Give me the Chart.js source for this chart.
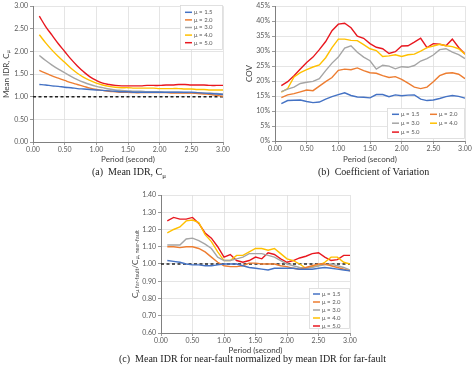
<!DOCTYPE html>
<html>
<head>
<meta charset="utf-8">
<script src="https://cdn.jsdelivr.net/npm/chart.js@4/dist/chart.umd.min.js"></script>
<style>
  body { margin: 0; background: #fff; width: 474px; height: 366px; overflow: hidden; position: relative; }
  .box { position: absolute; }
  .cap { position: absolute; font-family: "Liberation Serif", serif; font-size: 10px; color: #222; white-space: nowrap; }
  .cap sub { font-size: 7px; }
</style>
</head>
<body>
<div class="box" style="left:0;top:0;width:237px;height:168px"><canvas id="chartA"></canvas></div>
<div class="box" style="left:237px;top:0;width:237px;height:168px"><canvas id="chartB"></canvas></div>
<div class="box" style="left:125px;top:185px;width:240px;height:174px"><canvas id="chartC"></canvas></div>
<div class="cap" style="left:92px;top:166px">(a)&nbsp; Mean IDR, C<sub>μ</sub></div>
<div class="cap" style="left:318px;top:166px">(b)&nbsp; Coefficient of Variation</div>
<div class="cap" style="left:119px;top:353px">(c)&nbsp; Mean IDR for near-fault normalized by mean IDR for far-fault</div>
<script>
const periods = [0.1, 0.2, 0.3, 0.4, 0.5, 0.6, 0.7, 0.8, 0.9, 1.0, 1.1, 1.2, 1.3, 1.4, 1.5,
  1.6, 1.7, 1.8, 1.9, 2.0, 2.1, 2.2, 2.3, 2.4, 2.5, 2.6, 2.7, 2.8, 2.9, 3.0];
const labels = ['μ = 1.5', 'μ = 2.0', 'μ = 3.0', 'μ = 4.0', 'μ = 5.0'];
const colors = ['#4472c4', '#ed7d31', '#a5a5a5', '#ffc000', '#e8171f'];
const refX = [0, 3];
const refY = [1, 1];

// (a) mean IDR
const idr15 = [1.27, 1.26, 1.24, 1.23, 1.21, 1.20, 1.18, 1.17, 1.16, 1.15, 1.14, 1.13, 1.12, 1.11, 1.11,
  1.10, 1.10, 1.10, 1.10, 1.10, 1.10, 1.10, 1.10, 1.10, 1.10, 1.09, 1.08, 1.07, 1.06, 1.05];
const idr20 = [1.58, 1.52, 1.46, 1.41, 1.36, 1.31, 1.27, 1.23, 1.19, 1.16, 1.14, 1.12, 1.11, 1.10, 1.10,
  1.09, 1.09, 1.09, 1.09, 1.09, 1.09, 1.08, 1.08, 1.08, 1.08, 1.07, 1.06, 1.05, 1.03, 1.01];
const idr30 = [1.91, 1.80, 1.70, 1.61, 1.53, 1.45, 1.38, 1.32, 1.27, 1.23, 1.20, 1.17, 1.15, 1.14, 1.13,
  1.12, 1.12, 1.11, 1.11, 1.11, 1.10, 1.10, 1.10, 1.09, 1.09, 1.09, 1.08, 1.08, 1.07, 1.06];
const idr40 = [2.37, 2.19, 2.03, 1.89, 1.76, 1.63, 1.52, 1.43, 1.36, 1.30, 1.26, 1.23, 1.21, 1.20, 1.20,
  1.19, 1.19, 1.19, 1.19, 1.18, 1.18, 1.18, 1.18, 1.17, 1.17, 1.16, 1.16, 1.15, 1.15, 1.15];
const idr50 = [2.78, 2.55, 2.36, 2.17, 2.00, 1.83, 1.68, 1.55, 1.44, 1.36, 1.30, 1.27, 1.25, 1.24, 1.24,
  1.24, 1.24, 1.25, 1.25, 1.25, 1.26, 1.26, 1.27, 1.27, 1.26, 1.26, 1.26, 1.25, 1.25, 1.25];

// (b) coefficient of variation, %
const cov15 = [12.5, 13.5, 13.6, 13.7, 13.2, 12.8, 13.0, 14.0, 14.8, 15.5, 16.1, 15.2, 14.7, 14.6, 14.4,
  15.5, 15.5, 14.8, 15.4, 15.1, 15.3, 15.4, 14.0, 13.5, 13.7, 14.2, 14.8, 15.2, 14.9, 14.3];
const cov20 = [14.5, 15.4, 15.8, 16.4, 17.0, 16.8, 18.3, 19.8, 21.2, 23.6, 24.0, 23.8, 24.4, 23.5, 22.8,
  22.6, 21.8, 21.2, 21.5, 20.6, 19.3, 18.0, 17.5, 18.0, 19.8, 21.8, 22.6, 22.8, 22.3, 20.8];
const cov30 = [16.5, 17.3, 18.0, 19.2, 19.6, 19.9, 20.8, 23.5, 26.0, 28.0, 31.0, 31.8, 29.6, 28.0, 26.8,
  24.0, 25.3, 25.0, 24.1, 24.8, 24.6, 25.2, 26.7, 27.5, 28.7, 30.5, 30.8, 29.7, 28.8, 27.5];
const cov40 = [16.3, 17.5, 21.4, 22.8, 23.8, 24.7, 25.4, 27.8, 31.2, 34.0, 34.0, 33.6, 33.5, 32.2, 30.8,
  30.2, 28.2, 28.4, 28.8, 28.2, 28.8, 29.0, 30.0, 31.2, 31.7, 32.3, 31.8, 31.5, 30.8, 29.0];
const cov50 = [18.5, 19.8, 21.8, 24.0, 26.2, 28.0, 30.5, 33.2, 36.8, 39.0, 39.3, 37.8, 35.0, 34.3, 32.5,
  31.3, 30.8, 29.2, 29.8, 31.7, 31.8, 33.0, 34.3, 31.2, 32.5, 32.3, 31.8, 34.0, 31.2, 29.0];

// (c) near-fault / far-fault ratio
const ratio15 = [1.02, 1.015, 1.01, 1.00, 0.995, 0.995, 0.99, 0.99, 0.995, 1.00, 1.00, 1.00, 0.99, 0.98, 0.975,
  0.97, 0.965, 0.975, 0.975, 0.975, 0.975, 0.97, 0.97, 0.97, 0.975, 0.98, 0.975, 0.97, 0.965, 0.96];
const ratio20 = [1.10, 1.10, 1.095, 1.10, 1.10, 1.09, 1.07, 1.04, 1.01, 0.99, 0.985, 0.985, 0.99, 1.005, 1.005,
  1.00, 1.00, 1.00, 0.99, 0.985, 0.975, 0.97, 0.98, 0.99, 1.00, 1.00, 0.99, 0.98, 0.97, 0.96];
const ratio30 = [1.11, 1.11, 1.11, 1.145, 1.15, 1.135, 1.115, 1.09, 1.04, 1.02, 1.02, 1.03, 1.04, 1.06, 1.06,
  1.06, 1.05, 1.04, 1.02, 1.00, 0.99, 0.98, 0.975, 0.98, 0.99, 0.995, 1.00, 0.99, 0.98, 0.965];
const ratio40 = [1.18, 1.20, 1.215, 1.25, 1.255, 1.24, 1.17, 1.13, 1.07, 1.02, 1.02, 1.05, 1.05, 1.07, 1.09,
  1.09, 1.08, 1.09, 1.06, 1.03, 1.02, 1.00, 0.975, 0.985, 0.99, 1.01, 1.04, 1.04, 1.01, 1.00];
const ratio50 = [1.25, 1.27, 1.26, 1.26, 1.27, 1.235, 1.18, 1.15, 1.10, 1.04, 1.055, 1.02, 1.01, 1.02, 1.04,
  1.03, 1.065, 1.055, 1.03, 1.01, 1.02, 1.035, 1.045, 1.06, 1.065, 1.04, 1.02, 1.025, 1.05, 1.05];

const FONT = 'Lato, "Liberation Sans", sans-serif';

function makeSets(series, width, tension, withRef) {
  const sets = series.map((vals, i) => ({
    label: labels[i],
    data: vals.map((v, j) => ({ x: periods[j], y: v })),
    borderColor: colors[i],
    borderWidth: width,
    tension: tension,
    pointRadius: 0,
    fill: false,
  }));
  if (withRef) {
    sets.push({
      label: '',
      data: refX.map((x, j) => ({ x: x, y: refY[j] })),
      borderColor: '#222',
      borderWidth: 1.4,
      borderDash: [3, 2.5],
      pointRadius: 0,
      fill: false,
    });
  }
  return sets;
}

// rotated y title with subscript runs
const yTitle = {
  id: 'yTitle',
  afterDraw(chart, args, o) {
    const ctx = chart.ctx;
    const a = chart.chartArea;
    ctx.save();
    ctx.translate(o.x, (a.top + a.bottom) / 2);
    ctx.rotate(-Math.PI / 2);
    const parts = o.parts.map(p => ({ t: p[0], sub: p[1], font: (p[1] ? 5.5 : 8) + 'px ' + FONT }));
    let total = 0;
    parts.forEach(p => { ctx.font = p.font; p.w = ctx.measureText(p.t).width; total += p.w; });
    let x = -total / 2;
    ctx.fillStyle = '#404040';
    ctx.textBaseline = 'middle';
    parts.forEach(p => { ctx.font = p.font; ctx.fillText(p.t, x, p.sub ? 2 : 0); x += p.w; });
    ctx.restore();
  }
};

// boxed legend drawn inside the plot
const boxLegend = {
  id: 'boxLegend',
  afterDraw(chart, args, o) {
    const ctx = chart.ctx;
    ctx.save();
    ctx.fillStyle = '#fff';
    ctx.strokeStyle = '#d9d9d9';
    ctx.lineWidth = 0.8;
    ctx.fillRect(o.x, o.y, o.w, o.h);
    ctx.strokeRect(o.x + 0.5, o.y + 0.5, o.w - 1, o.h - 1);
    ctx.font = '6px ' + FONT;
    ctx.textBaseline = 'middle';
    chart.data.datasets.filter(d => d.label).forEach((d, i) => {
      const c = i % o.cols, r = Math.floor(i / o.cols);
      const lx = o.x + o.padX + c * o.colW;
      const ly = o.y + o.padY + r * o.rowH;
      ctx.strokeStyle = d.borderColor;
      ctx.lineWidth = 1.5;
      ctx.beginPath();
      ctx.moveTo(lx, ly);
      ctx.lineTo(lx + 7, ly);
      ctx.stroke();
      ctx.fillStyle = '#595959';
      ctx.fillText(d.label, lx + 9, ly);
    });
    ctx.restore();
  }
};

function axes(yMin, yMax, yStep, yFmt, yWidth, xHeight) {
  const grid = { color: '#dedede', lineWidth: 0.8, tickLength: 3, tickColor: '#808080' };
  const ticks = { color: '#595959', font: { family: FONT, size: 7 } };
  return {
    x: {
      type: 'linear', min: 0, max: 3,
      grid: grid,
      border: { color: '#808080', width: 1 },
      ticks: Object.assign({ stepSize: 0.5, padding: 1, maxRotation: 0, callback: v => v.toFixed(2) }, ticks),
      title: { display: true, text: 'Period (second)', color: '#404040', font: { family: FONT, size: 8 }, padding: { top: 2, bottom: 4 } },
      afterFit: s => { s.height = xHeight; },
    },
    y: {
      min: yMin, max: yMax,
      grid: grid,
      border: { color: '#808080', width: 1 },
      ticks: Object.assign({ stepSize: yStep, padding: 2, callback: yFmt }, ticks),
      afterFit: s => { s.width = yWidth; },
    },
  };
}

function draw(id, sets, scales, padding, titleOpts, legendOpts) {
  new Chart(document.getElementById(id), {
    type: 'line',
    data: { datasets: sets },
    options: {
      responsive: true,
      maintainAspectRatio: false,
      animation: false,
      layout: { padding: padding },
      scales: scales,
      plugins: { legend: { display: false }, tooltip: { enabled: false }, yTitle: titleOpts, boxLegend: legendOpts },
    },
    plugins: [yTitle, boxLegend],
  });
}

draw('chartA',
  makeSets([idr15, idr20, idr30, idr40, idr50], 1.4, 0.4, true),
  axes(0, 3, 0.5, v => v.toFixed(2), 33, 26),
  { top: 3, right: 14, left: 0, bottom: 0 },
  { x: 6, parts: [['Mean IDR, C', false], ['μ', true]] },
  { x: 180, y: 5, w: 43, h: 45, cols: 1, colW: 0, rowH: 7.6, padX: 5, padY: 7.3 });

draw('chartB',
  makeSets([cov15, cov20, cov30, cov40, cov50], 1.4, 0, false),
  axes(0, 45, 5, v => v + '%', 38, 27),
  { top: 3, right: 9, left: 0, bottom: 0 },
  { x: 12, parts: [['COV', false]] },
  { x: 150, y: 108, w: 78, h: 31, cols: 2, colW: 38, rowH: 8.9, padX: 5, padY: 6.3 });

draw('chartC',
  makeSets([ratio15, ratio20, ratio30, ratio40, ratio50], 1.4, 0, true),
  axes(0.6, 1.4, 0.1, v => v.toFixed(2), 36, 26),
  { top: 10, right: 15, left: 0, bottom: 0 },
  { x: 10, parts: [['C', false], ['μ far-fault', true], ['/C', false], ['μ, near-fault', true]] },
  { x: 184, y: 103, w: 41, h: 41, cols: 1, colW: 0, rowH: 8, padX: 4, padY: 6 });
</script>
</body>
</html>
